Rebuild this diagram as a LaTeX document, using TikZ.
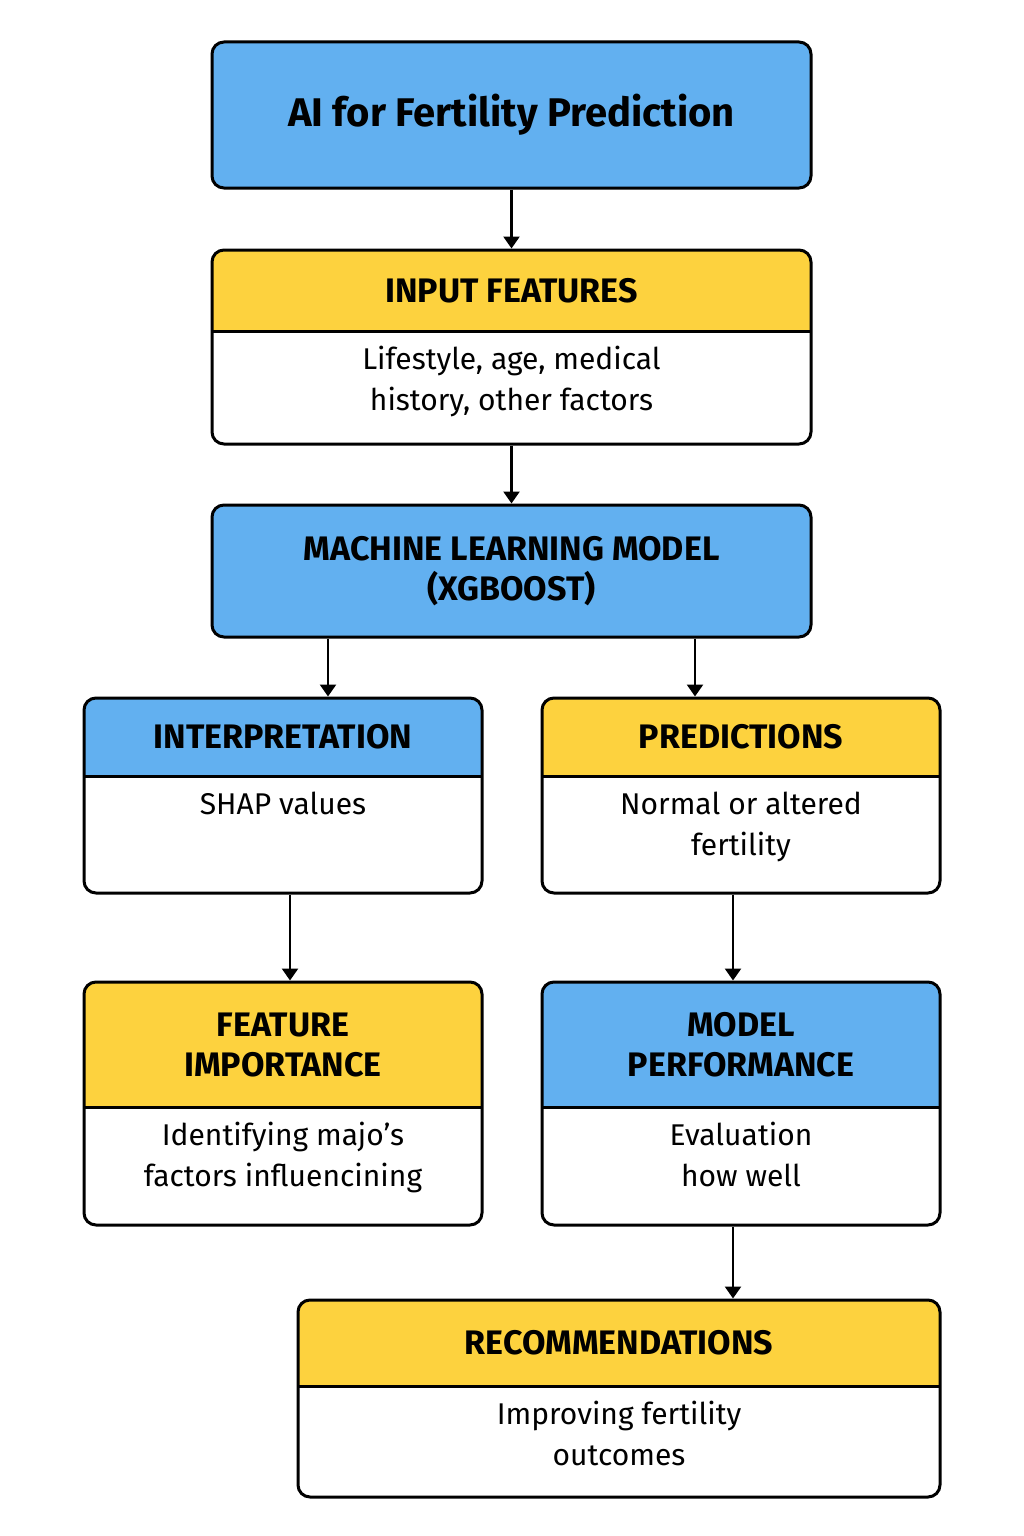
\documentclass[tikz,border=0pt]{standalone}
\usepackage{fontspec}
\setmainfont{Fira Sans}
\usetikzlibrary{fit,arrows.meta}
\definecolor{cblue}{HTML}{62B0F0}
\definecolor{cyel}{HTML}{FDD23E}
\tikzset{
 frame/.style={draw, line width=3pt, rounded corners=12pt, inner sep=0pt},
 hd/.style={font=\fontsize{34}{40}\selectfont\bfseries, align=center},
 bd/.style={font=\fontsize{30}{41}\selectfont, align=center},
 arr/.style={line width=2.5pt, -{Triangle[length=12pt,width=16pt]}}
}
\newcommand\twobox[9]{%
 \begin{scope}
 \clip[rounded corners=12pt] (#2,#3) rectangle (#4,#5);
 \fill[white] (#2,#3) rectangle (#4,#5);
 \fill[#7] (#2,#3) rectangle (#4,#6);
 \end{scope}
 \draw[line width=3pt] (#2,#6) -- (#4,#6);
 \node[frame, fit={(#2,#3)(#4,#5)}] (#1) {};
 \node[hd] (#1h) at ({(#2+#4)/2},{(#3+#6)/2}) {#8};
 \node[bd, anchor=north] (#1b) at ({(#2+#4)/2},{#6+12}) {#9};
}
\begin{document}
\begin{tikzpicture}[x=1pt,y=-1pt]
\useasboundingbox[fill=white] (0,0) rectangle (1024,1536);
\node[frame, fill=cblue, fit={(212,42)(811,188)}] (title) {};
\node[font=\fontsize{40}{48}\selectfont\bfseries] at (title.center) {AI for Fertility Prediction};
\twobox{inp}{212}{250}{811}{444}{331}{cyel}{INPUT FEATURES}{Lifestyle, age, medical\\history, other factors}
\node[frame, fill=cblue, fit={(212,505)(811,637)}] (ml) {};
\node[hd] at (ml.center) {MACHINE LEARNING MODEL\\(XGBOOST)};
\twobox{int}{84}{698}{482}{893}{776}{cblue}{INTERPRETATION}{SHAP values}
\twobox{pred}{542}{698}{940}{893}{776}{cyel}{PREDICTIONS}{Normal or altered\\fertility}
\twobox{fi}{84}{982}{482}{1225}{1107}{cyel}{FEATURE\\IMPORTANCE}{Identifying majo’s\\factors influencining}
\twobox{mp}{542}{982}{940}{1225}{1107}{cblue}{MODEL\\PERFORMANCE}{Evaluation\\how well}
\twobox{rec}{298}{1300}{940}{1497}{1386}{cyel}{RECOMMENDATIONS}{Improving fertility\\outcomes}
\draw[arr] (title.south) -- (inp.north);
\draw[arr] (inp.south) -- (ml.north);
\draw[arr] (ml.south -| int.center) ++(45,0) coordinate (a1) -- (a1 |- int.north);
\draw[arr] (ml.south -| pred.center) ++(-46,0) coordinate (a2) -- (a2 |- pred.north);
\draw[arr] (int.south) ++(7,0) coordinate (a3) -- (a3 |- fi.north);
\draw[arr] (pred.south) ++(-8,0) coordinate (a4) -- (a4 |- mp.north);
\draw[arr] (mp.south) ++(-8,0) coordinate (a5) -- (a5 |- rec.north);
\end{tikzpicture}
\end{document}
